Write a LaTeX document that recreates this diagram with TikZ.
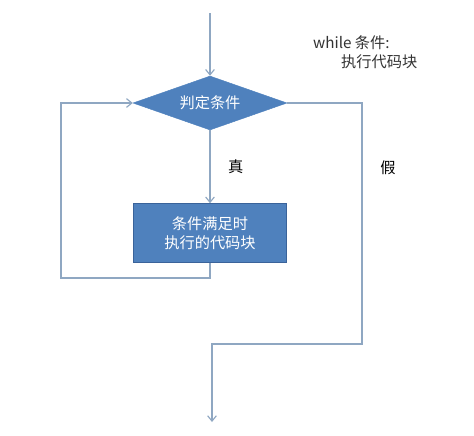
\documentclass[tikz,border=0pt]{standalone}
\usepackage{fontspec}
\setmainfont{Noto Sans CJK SC}
\usepackage{tikz}
\usetikzlibrary{arrows.meta,positioning,shapes.geometric,calc}
\definecolor{flowblue}{HTML}{4F81BD}
\definecolor{flowedge}{HTML}{3A639A}
\definecolor{flowline}{HTML}{8FA7C2}

\begin{document}
\begin{tikzpicture}[
  x=0.03cm, y=-0.03cm, >={Straight Barb[length=1.6mm,width=2.6mm]},
  font=\fontsize{13}{17}\selectfont,
  cond/.style={diamond,draw=flowblue,fill=flowblue,text=white,aspect=2.85,inner sep=0pt,minimum width=4.62cm,minimum height=1.62cm},
  blk/.style={draw=flowedge,line width=0.8pt,fill=flowblue,text=white,align=center,minimum width=4.59cm,minimum height=1.77cm},
  ar/.style={->,draw=flowline,line width=1pt},
  note/.style={anchor=west,text=black!80}
]
\useasboundingbox (0,0) rectangle (474,435);
% entry, test and body
\coordinate (start) at (210,13);
\node[cond] (test) at (210,103) {判定条件};
\node[blk,below=2.19cm of test] (body) {条件满足时\\执行的代码块};
\draw[ar] (start) -- (test.north);
\draw[ar] (test.south) -- (body.north);
\node[right=4.2mm of $(test.south)!0.5!(body.north)$] (yes) {真};
% loop back to the test
\coordinate (back) at (61,278);
\draw[ar] (body.south) |- (back) |- (test.west);
% exit when false
\coordinate (turn) at (362,344);
\coordinate (exit) at (212,422);
\draw[ar] (test.east) -| (turn) -| (exit);
\node at (388,168) (no) {假};
% code note
\node[note] (code1) at (309,43) {while 条件:};
\node[note] (code2) at (337,62) {执行代码块};
\end{tikzpicture}
\end{document}
